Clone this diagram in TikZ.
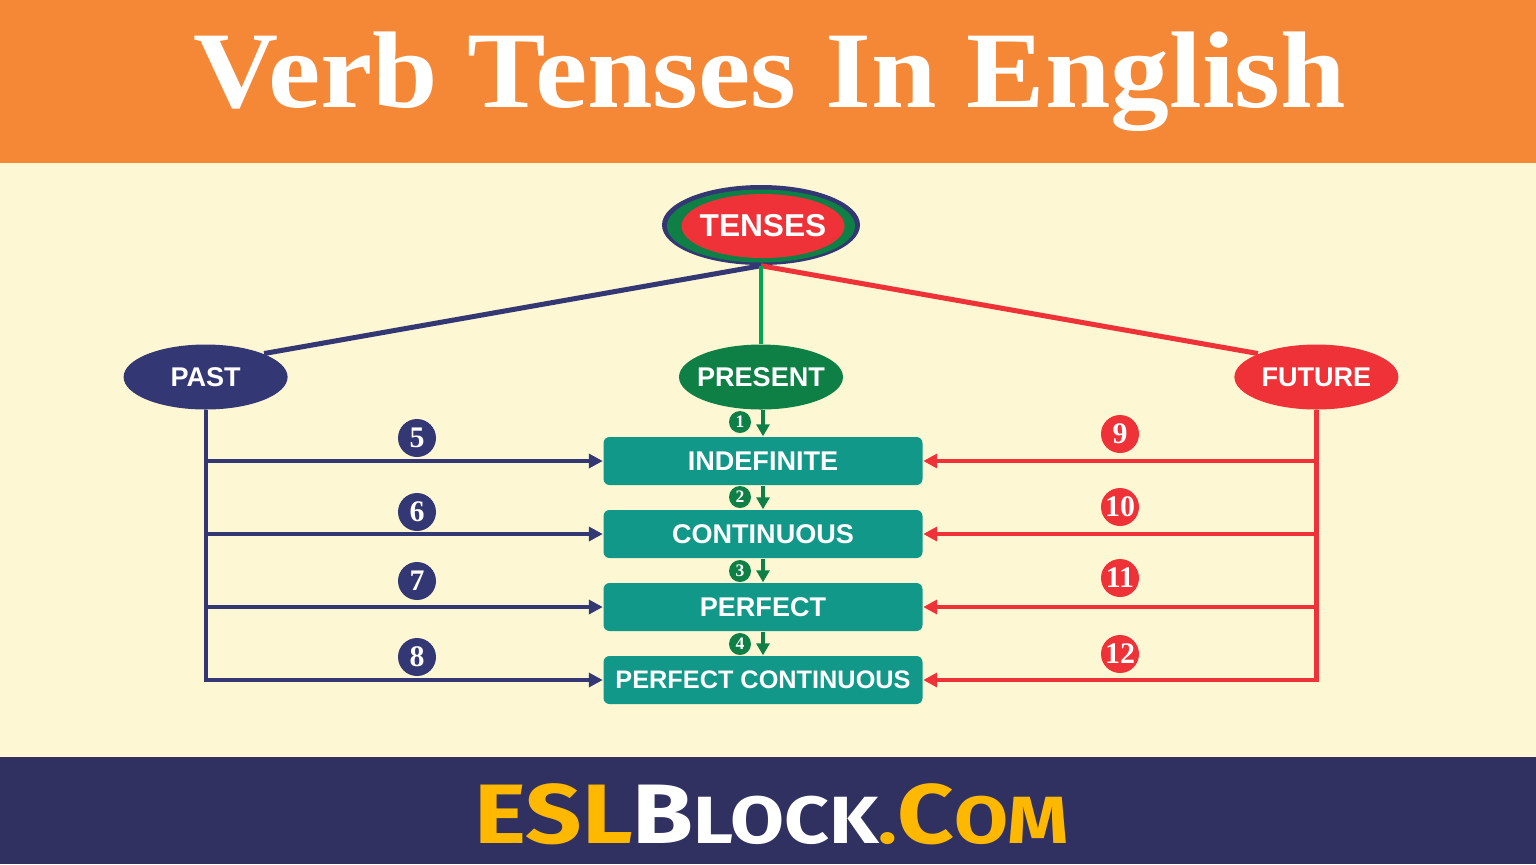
\documentclass[tikz,border=0pt]{standalone}
\usepackage{fontspec}
\setmainfont{Liberation Sans}
\newfontfamily\titlefont{Liberation Serif}
\newfontfamily\logofont{Fira Sans}
\usetikzlibrary{arrows.meta, positioning, shapes.geometric}

\definecolor{bandorange}{HTML}{F58837}
\definecolor{cream}{HTML}{FEF7D4}
\definecolor{bandnavy}{HTML}{303160}
\definecolor{pastnavy}{HTML}{333773}
\definecolor{presgreen}{HTML}{0E8046}
\definecolor{linegreen}{HTML}{00A651}
\definecolor{futred}{HTML}{EE3238}
\definecolor{boxteal}{HTML}{129888}
\definecolor{logoyellow}{HTML}{FFB800}

% keeps the ellipse at its minimum size
\newcommand{\ovaltext}[1]{\makebox[0pt]{#1}}

\begin{document}
\begin{tikzpicture}[
		x=0.1mm, y=-0.1mm,
		node distance=2.6mm and 39mm,
		every node/.style={text=white, inner sep=0pt},
		timenode/.style={ellipse, minimum width=16.4mm, minimum height=6.5mm, font=\bfseries\fontsize{7.7}{8}\selectfont},
		tensebox/.style={rectangle, rounded corners=0.6mm, fill=boxteal, minimum width=31.9mm, minimum height=4.8mm, font=\bfseries\fontsize{7.7}{8}\selectfont},
		bignum/.style={circle, minimum size=3.8mm, font=\titlefont\bfseries\fontsize{8.5}{8.5}\selectfont},
		smallnum/.style={circle, fill=presgreen, minimum size=2.2mm, font=\titlefont\bfseries\fontsize{5}{5}\selectfont},
		pastline/.style={draw=pastnavy, line width=0.4mm, -{Triangle[length=1.4mm, width=1.4mm]}},
		futline/.style={draw=futred, line width=0.45mm, -{Triangle[length=1.4mm, width=1.4mm]}},
		presline/.style={draw=presgreen, line width=0.35mm, -{Triangle[length=1.2mm, width=1.3mm]}}
		]
	
		% bands
		\useasboundingbox (0,0) rectangle (1536,864);
		\fill[bandorange] (0,0) rectangle (1536,163);
		\fill[cream] (0,163) rectangle (1536,757);
		\fill[bandnavy] (0,757) rectangle (1536,864);
		
		\node[anchor=base, font=\titlefont\bfseries\fontsize{31}{31}\selectfont] at (770,107) (title) {\scalebox{1.08}[1]{Verb Tenses In English}};
		\node[anchor=base, font=\logofont\bfseries] at (772,843) (logo) {\scalebox{1.17}[1]{\textcolor{logoyellow}{\fontsize{24}{24}\selectfont ESL}\fontsize{24}{24}\selectfont B\fontsize{19}{19}\selectfont LOCK\textcolor{logoyellow}{.\fontsize{24}{24}\selectfont C\fontsize{19}{19}\selectfont OM}}};
		
		% top
		\node[ellipse, fill=pastnavy, minimum width=19.8mm, minimum height=8mm] at (761,225) (tenses) {};
		\node[ellipse, fill=presgreen, minimum width=18.8mm, minimum height=7.3mm] at (761,226) (tensesring) {};
		\node[ellipse, fill=futred, minimum width=16.3mm, minimum height=6.4mm, font=\bfseries\fontsize{9}{9}\selectfont] at (763,226) (tenseslabel) {\ovaltext{TENSES}};
		
		\node[timenode, fill=presgreen] at (761,377) (present) {\ovaltext{PRESENT}};
		\node[timenode, fill=pastnavy, left=of present] (past) {\ovaltext{PAST}};
		\node[timenode, fill=futred, right=of present] (future) {\ovaltext{FUTURE}};
		
		\draw[draw=pastnavy, line width=0.5mm] (tenses.south) -- (past.north east);
		\draw[draw=futred, line width=0.5mm] (tenses.south) -- (future.north west);
		\draw[draw=linegreen, line width=0.45mm] (tenses.south) -- (present.north);
		
		% boxes
		\node[tensebox] at (763,461) (indef) {INDEFINITE};
		\node[tensebox] at (763,534) (cont) {CONTINUOUS};
		\node[tensebox] at (763,607) (perf) {PERFECT};
		\node[tensebox, font=\bfseries\fontsize{7.2}{8}\selectfont] at (763,680) (perfcont) {PERFECT CONTINUOUS};
		
		% present
		\draw[presline] (indef.north |- present.south) -- (indef.north);
		\draw[presline] (indef.south) -- (cont.north);
		\draw[presline] (cont.south) -- (perf.north);
		\draw[presline] (perf.south) -- (perfcont.north);
		\node[smallnum] at (740,422) (n1) {1};
		\node[smallnum] at (740,497) (n2) {2};
		\node[smallnum] at (740,571) (n3) {3};
		\node[smallnum] at (740,644) (n4) {4};
		
		% past
		\draw[pastline] (past.south) |- (perfcont.west);
		\draw[pastline] (past.south |- indef.west) -- (indef.west);
		\draw[pastline] (past.south |- cont.west) -- (cont.west);
		\draw[pastline] (past.south |- perf.west) -- (perf.west);
		\node[bignum, fill=pastnavy] at (417,438) (n5) {5};
		\node[bignum, fill=pastnavy] at (417,512) (n6) {6};
		\node[bignum, fill=pastnavy] at (417,581) (n7) {7};
		\node[bignum, fill=pastnavy] at (417,657) (n8) {8};
		
		% future
		\draw[futline] (future.south) |- (perfcont.east);
		\draw[futline] (future.south |- indef.east) -- (indef.east);
		\draw[futline] (future.south |- cont.east) -- (cont.east);
		\draw[futline] (future.south |- perf.east) -- (perf.east);
		\node[bignum, fill=futred] at (1120,434) (n9) {9};
		\node[bignum, fill=futred] at (1120,507) (n10) {10};
		\node[bignum, fill=futred] at (1120,578) (n11) {11};
		\node[bignum, fill=futred] at (1120,654) (n12) {12};
		
	\end{tikzpicture}
\end{document}
